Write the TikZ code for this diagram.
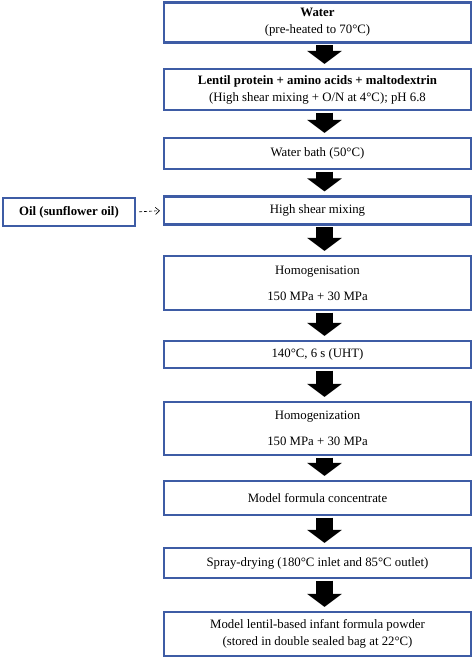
\documentclass[tikz,border=0pt]{standalone}
\usepackage{fontspec}
\setmainfont{Liberation Serif}
\usetikzlibrary{arrows.meta}
\definecolor{boxblue}{RGB}{62,92,165}

\begin{document}
\begin{tikzpicture}[x=1pt, y=-1pt,
        stepbox/.style={draw=boxblue, line width=2.2pt, rectangle, minimum width=307pt, inner sep=0pt, align=center, fill=white, font=\fontsize{12.8}{17}\selectfont},
        flow/.style={line width=17pt, -{Triangle[width=34pt, length=13pt]}, shorten <=1.5pt, shorten >=4pt},
        feed/.style={densely dashed, semithick, -{Straight Barb[length=4pt, width=7pt]}, shorten <=3pt, shorten >=3pt}]
        \useasboundingbox (0,0) rectangle (474,659);

        % Ingredients
        \node[stepbox, minimum height=40pt] (water) at (317.5, 22.5) {\textbf{Water}\\(pre-heated to 70°C)};
        \node[stepbox, minimum height=41pt] (lentil) at (317.5, 89.5) {\textbf{Lentil protein + amino acids + maltodextrin}\\(High shear mixing + O/N at 4°C); pH 6.8};
        \node[stepbox, minimum height=31pt] (bath) at (317.5, 153.5) {Water bath (50°C)};

        % Oil addition
        \node[stepbox, minimum height=28pt] (mixing) at (317.5, 210.5) {High shear mixing};
        \node[stepbox, minimum width=132pt, minimum height=28pt] (oil) at (69, 212) {\textbf{Oil (sunflower oil)}};

        % Processing
        \node[stepbox, minimum height=54pt] (homog1) at (317.5, 283) {Homogenisation\\[9pt]150 MPa + 30 MPa};
        \node[stepbox, minimum height=27pt] (uht) at (317.5, 354.5) {140°C, 6 s (UHT)};
        \node[stepbox, minimum height=53pt] (homog2) at (317.5, 428.5) {Homogenization\\[9pt]150 MPa + 30 MPa};
        \node[stepbox, minimum height=34pt] (conc) at (317.5, 498) {Model formula concentrate};

        % Drying
        \node[stepbox, minimum height=30pt] (spray) at (317.5, 563) {Spray-drying (180°C inlet and 85°C outlet)};
        \node[stepbox, minimum height=44pt] (powder) at (317.5, 634) {Model lentil-based infant formula powder\\(stored in double sealed bag at 22°C)};

        % Arrows
        \foreach \a/\b in {water/lentil, lentil/bath, bath/mixing, mixing/homog1, homog1/uht, uht/homog2, homog2/conc, conc/spray, spray/powder}
            \draw[flow] ([xshift=7pt]\a.south) -- ([xshift=7pt]\b.north);
        \draw[feed] (oil.east) -- (mixing.west);
    \end{tikzpicture}
\end{document}
